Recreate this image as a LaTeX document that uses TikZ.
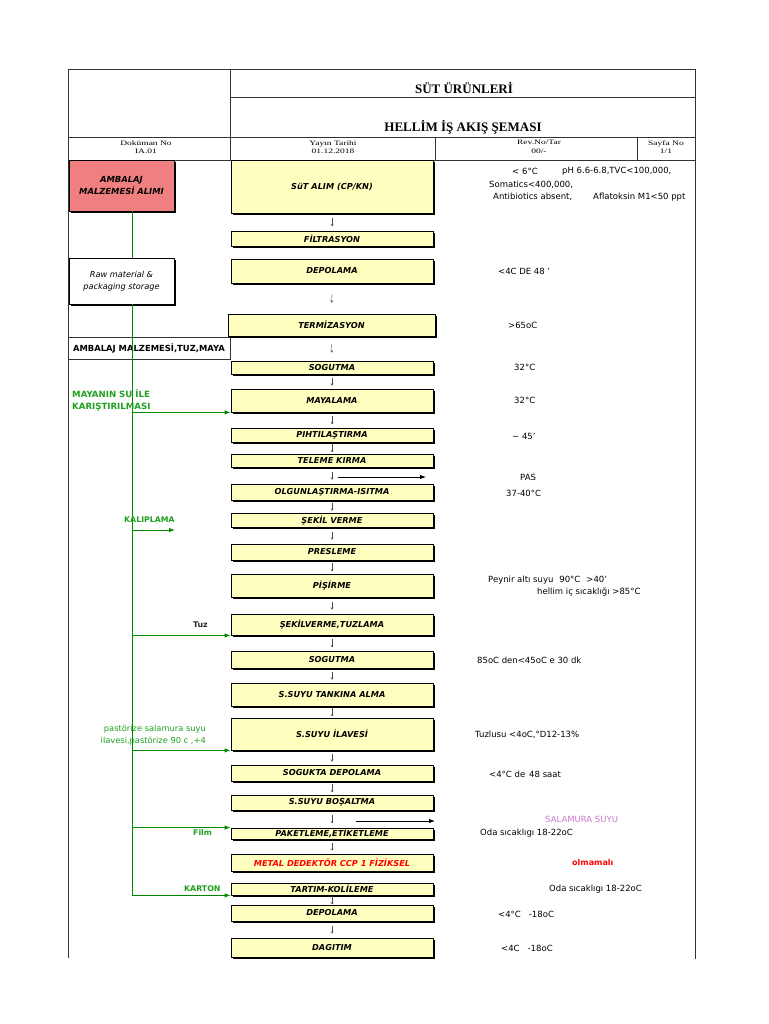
\documentclass[tikz,border=0pt]{standalone}
\usepackage{fontspec}
\setmainfont{Liberation Serif}
\setsansfont{DejaVu Sans}
\usetikzlibrary{arrows.meta,shadows,decorations.markings}
\definecolor{boxyellow}{RGB}{255,255,192}
\definecolor{boxpink}{RGB}{240,128,128}
\definecolor{linegreen}{RGB}{0,136,0}
\definecolor{textgreen}{RGB}{30,160,30}
\definecolor{salamura}{RGB}{204,120,204}
\newcommand{\squash}[1]{\scalebox{1}[0.72]{#1}}

\begin{document}
\begin{tikzpicture}[x=1pt,y=-1pt,
    frame/.style={draw=black!80, line width=0.75pt},
    headcell/.style={inner sep=0pt, align=center, font=\fontsize{9.5}{8.5}\selectfont},
    stepbox/.style={rectangle, draw, line width=0.8pt, fill=boxyellow, minimum width=202pt, inner sep=0pt,
        font=\sffamily\bfseries\itshape\fontsize{8.2}{9}\selectfont,
        drop shadow={shadow xshift=2pt, shadow yshift=-2pt, fill=black, opacity=1}},
    sidebox/.style={rectangle, draw, line width=0.8pt, minimum width=105pt, inner sep=0pt, align=center,
        drop shadow={shadow xshift=2pt, shadow yshift=-2pt, fill=black, opacity=1}},
    note/.style={anchor=west, inner sep=0pt, font=\sffamily\fontsize{8.5}{10}\selectfont},
    greenlabel/.style={anchor=west, inner sep=0pt, text=textgreen, font=\sffamily\bfseries\fontsize{7.8}{12}\selectfont},
    down/.style={draw=none, postaction={decorate}, decoration={markings, mark=at position 0.5 with
        {\draw[black!70, line width=0.45pt, -{To[length=2.2pt,width=2.8pt]}] (-4pt,0) -- (4pt,0);}}},
    feedline/.style={draw=linegreen, line width=1pt},
    feed/.style={feedline, -{Latex[length=6pt,width=4.5pt]}},
    outflow/.style={draw=black, line width=0.9pt, -{Latex[length=6pt,width=4.5pt]}}]
    \useasboundingbox (0,0) rectangle (768,1024);

    % header table
    \draw[frame] (68,69) -- (695,69);
    \draw[frame] (68,69) -- (68,958);
    \draw[frame] (695,69) -- (695,959);
    \draw[frame] (230,69) -- (230,160);
    \draw[frame] (230,97) -- (695,97);
    \draw[frame] (68,137) -- (695,137);
    \draw[frame] (435,137) -- (435,160);
    \draw[frame] (637,137) -- (637,160);
    \draw[frame] (68,160) -- (695,160);
    \draw[frame] (68,337) -- (230,337) -- (230,359) -- (68,359);

    \node[font=\bfseries\fontsize{13}{15}\selectfont] (urunler) at (464,88) {SÜT ÜRÜNLERİ};
    \node[font=\bfseries\fontsize{13}{15}\selectfont] (baslik) at (463,127) {HELLİM İŞ AKIŞ ŞEMASI};
    \node[headcell] (dokuman) at (146,147) {\squash{Doküman No}\\\squash{IA.01}};
    \node[headcell] (tarih) at (333,147) {\squash{Yayın Tarihi}\\\squash{01.12.2018}};
    \node[headcell] (revno) at (539,147) {\squash{Rev.No/Tar}\\\squash{00/-}};
    \node[headcell] (sayfa) at (666,147) {\squash{Sayfa No}\\\squash{1/1}};

    % left column
    \node[sidebox, fill=boxpink, minimum height=51pt, font=\sffamily\bfseries\itshape\fontsize{8.4}{12}\selectfont] (ambalaj) at (121.5,185.5) {AMBALAJ\\MALZEMESİ ALIMI};
    \node[sidebox, fill=white, minimum height=46pt, font=\sffamily\itshape\fontsize{8.2}{12}\selectfont] (rawmat) at (121.5,281) {Raw material \&\\packaging storage};
    \node[inner sep=0pt, font=\sffamily\bfseries\fontsize{8.4}{9}\selectfont] (malzeme) at (149,348) {AMBALAJ MALZEMESİ,TUZ,MAYA};

    % main flow
    \node[stepbox, minimum height=53pt] (sutalim) at (332,186.5) {SüT ALIM (CP/KN)};
    \node[stepbox, minimum height=15pt] (filtrasyon) at (332,238.5) {FİLTRASYON};
    \node[stepbox, minimum height=24pt] (depolama) at (332,271) {DEPOLAMA};
    \node[stepbox, minimum height=22pt, minimum width=207pt] (termizasyon) at (331.5,325) {TERMİZASYON};
    \node[stepbox, minimum height=13pt] (sogutma) at (332,367.5) {SOGUTMA};
    \node[stepbox, minimum height=23pt] (mayalama) at (332,400.5) {MAYALAMA};
    \node[stepbox, minimum height=14pt] (pihti) at (332,435) {PIHTILAŞTIRMA};
    \node[stepbox, minimum height=13pt] (teleme) at (332,460.5) {TELEME KIRMA};
    \node[stepbox, minimum height=16pt] (olgun) at (332,492) {OLGUNLAŞTIRMA-ISITMA};
    \node[stepbox, minimum height=14pt] (sekil) at (332,520) {ŞEKİL VERME};
    \node[stepbox, minimum height=16pt] (presleme) at (332,552) {PRESLEME};
    \node[stepbox, minimum height=23pt] (pisirme) at (332,585.5) {PİŞİRME};
    \node[stepbox, minimum height=21pt] (sekiltuz) at (332,624.5) {ŞEKİLVERME,TUZLAMA};
    \node[stepbox, minimum height=17pt] (sogutmaiki) at (332,659.5) {SOGUTMA};
    \node[stepbox, minimum height=23pt] (tank) at (332,694.5) {S.SUYU TANKINA ALMA};
    \node[stepbox, minimum height=32pt] (ilave) at (332,734) {S.SUYU İLAVESİ};
    \node[stepbox, minimum height=16pt] (sogukta) at (332,773) {SOGUKTA DEPOLAMA};
    \node[stepbox, minimum height=15pt] (bosaltma) at (332,802.5) {S.SUYU BOŞALTMA};
    \node[stepbox, minimum height=11pt] (paketleme) at (332,833.5) {PAKETLEME,ETİKETLEME};
    \node[stepbox, minimum height=17pt, text=red] (metal) at (332,862.5) {METAL DEDEKTÖR CCP 1 FİZİKSEL};
    \node[stepbox, minimum height=12pt] (tartim) at (332,889) {TARTIM-KOLİLEME};
    \node[stepbox, minimum height=16pt] (depolamaiki) at (332,913) {DEPOLAMA};
    \node[stepbox, minimum height=19pt] (dagitim) at (332,947.5) {DAGITIM};

    \foreach \a/\b in {sutalim/filtrasyon, depolama/termizasyon, termizasyon/sogutma, sogutma/mayalama,
        mayalama/pihti, pihti/teleme, teleme/olgun, olgun/sekil, sekil/presleme, presleme/pisirme,
        pisirme/sekiltuz, sekiltuz/sogutmaiki, sogutmaiki/tank, tank/ilave, ilave/sogukta,
        sogukta/bosaltma, bosaltma/paketleme, paketleme/metal, tartim/depolamaiki, depolamaiki/dagitim}
        \draw[down] (\a.south) -- (\b.north);

    % side outputs
    \coordinate (pasfrom) at (338,477);
    \coordinate (pasto) at (426,477);
    \draw[outflow] (pasfrom) -- (pasto);
    \coordinate (suyufrom) at (356,821);
    \coordinate (suyuto) at (435,821);
    \draw[outflow] (suyufrom) -- (suyuto);

    % green feed line
    \coordinate (spine) at (132,0);
    \coordinate (kalip) at (175,530);
    \draw[feedline] ([xshift=10.5pt]ambalaj.south) -- ([xshift=10.5pt]rawmat.north);
    \draw[feed] ([xshift=10.5pt]rawmat.south) |- (tartim.south west);
    \draw[feed] (spine |- mayalama.south west) -- (mayalama.south west);
    \draw[feed] (spine |- kalip) -- (kalip);
    \draw[feed] (spine |- sekiltuz.south west) -- (sekiltuz.south west);
    \draw[feed] (spine |- ilave.south west) -- (ilave.south west);
    \draw[feed] (spine |- paketleme.north west) -- (paketleme.north west);

    \node[greenlabel, align=left, font=\sffamily\bfseries\fontsize{8.6}{12}\selectfont] (mayanin) at (72,400) {MAYANIN SU İLE\\KARIŞTIRILMASI};
    \node[greenlabel] (kaliplama) at (124,520) {KALIPLAMA};
    \node[greenlabel, text=black!85] (tuz) at (193,625) {Tuz};
    \node[greenlabel, anchor=east, align=right, font=\sffamily\fontsize{8.3}{12}\selectfont] (pastorize) at (206,735) {pastörize salamura suyu\\ilavesi,pastörize 90 c ,+4};
    \node[greenlabel] (film) at (193,833) {Film};
    \node[greenlabel] (karton) at (184,889) {KARTON};

    % process notes
    \node[note] (alimsicak) at (512,171) {<\,\,6°C};
    \node[note] (alimph) at (562,171) {pH 6.6-6.8,TVC<100,000,};
    \node[note] (alimsomatik) at (489,185) {Somatics<400,000,};
    \node[note] (alimanti) at (493,197) {Antibiotics absent,};
    \node[note] (alimafla) at (593,197) {Aflatoksin M1<50 ppt};
    \node[note] (depolamanot) at (498,271) {<4C DE 48 '};
    \node[note] (termnot) at (508,325) {>65oC};
    \node[note] (sogutmanot) at (514,367) {32°C};
    \node[note] (mayanot) at (514,400) {32°C};
    \node[note] (pihtinot) at (512,436) {\textasciitilde\ 45'};
    \node[note] (pas) at (520,477) {PAS};
    \node[note] (olgunnot) at (506,493) {37-40°C};
    \node[note] (peynirsuyu) at (488,580) {Peynir altı suyu\hspace{6pt}90°C\hspace{6pt}>40'};
    \node[note] (icsicaklik) at (537,592) {hellim iç sıcaklığı >85°C};
    \node[note] (sogutmaikinot) at (477,660) {85oC den<45oC e 30 dk};
    \node[note] (tuzlusu) at (475,735) {Tuzlusu <4oC,°D12-13\%};
    \node[note] (soguktanot) at (489,774) {<4°C de\hspace{4pt}48 saat};
    \node[note, text=salamura] (salamurasuyu) at (545,819) {SALAMURA SUYU};
    \node[note] (paketnot) at (480,833) {Oda sıcaklıgı 18-22oC};
    \node[note, text=red, font=\sffamily\bfseries\fontsize{8}{9}\selectfont] (olmamali) at (572,863) {olmamalı};
    \node[note] (tartimnot) at (549,889) {Oda sıcaklıgı 18-22oC};
    \node[note] (depolamaikinot) at (498,914) {<4°C\hspace{8pt}-18oC};
    \node[note] (dagitimnot) at (501,948) {<4C\hspace{8pt}-18oC};
\end{tikzpicture}
\end{document}
